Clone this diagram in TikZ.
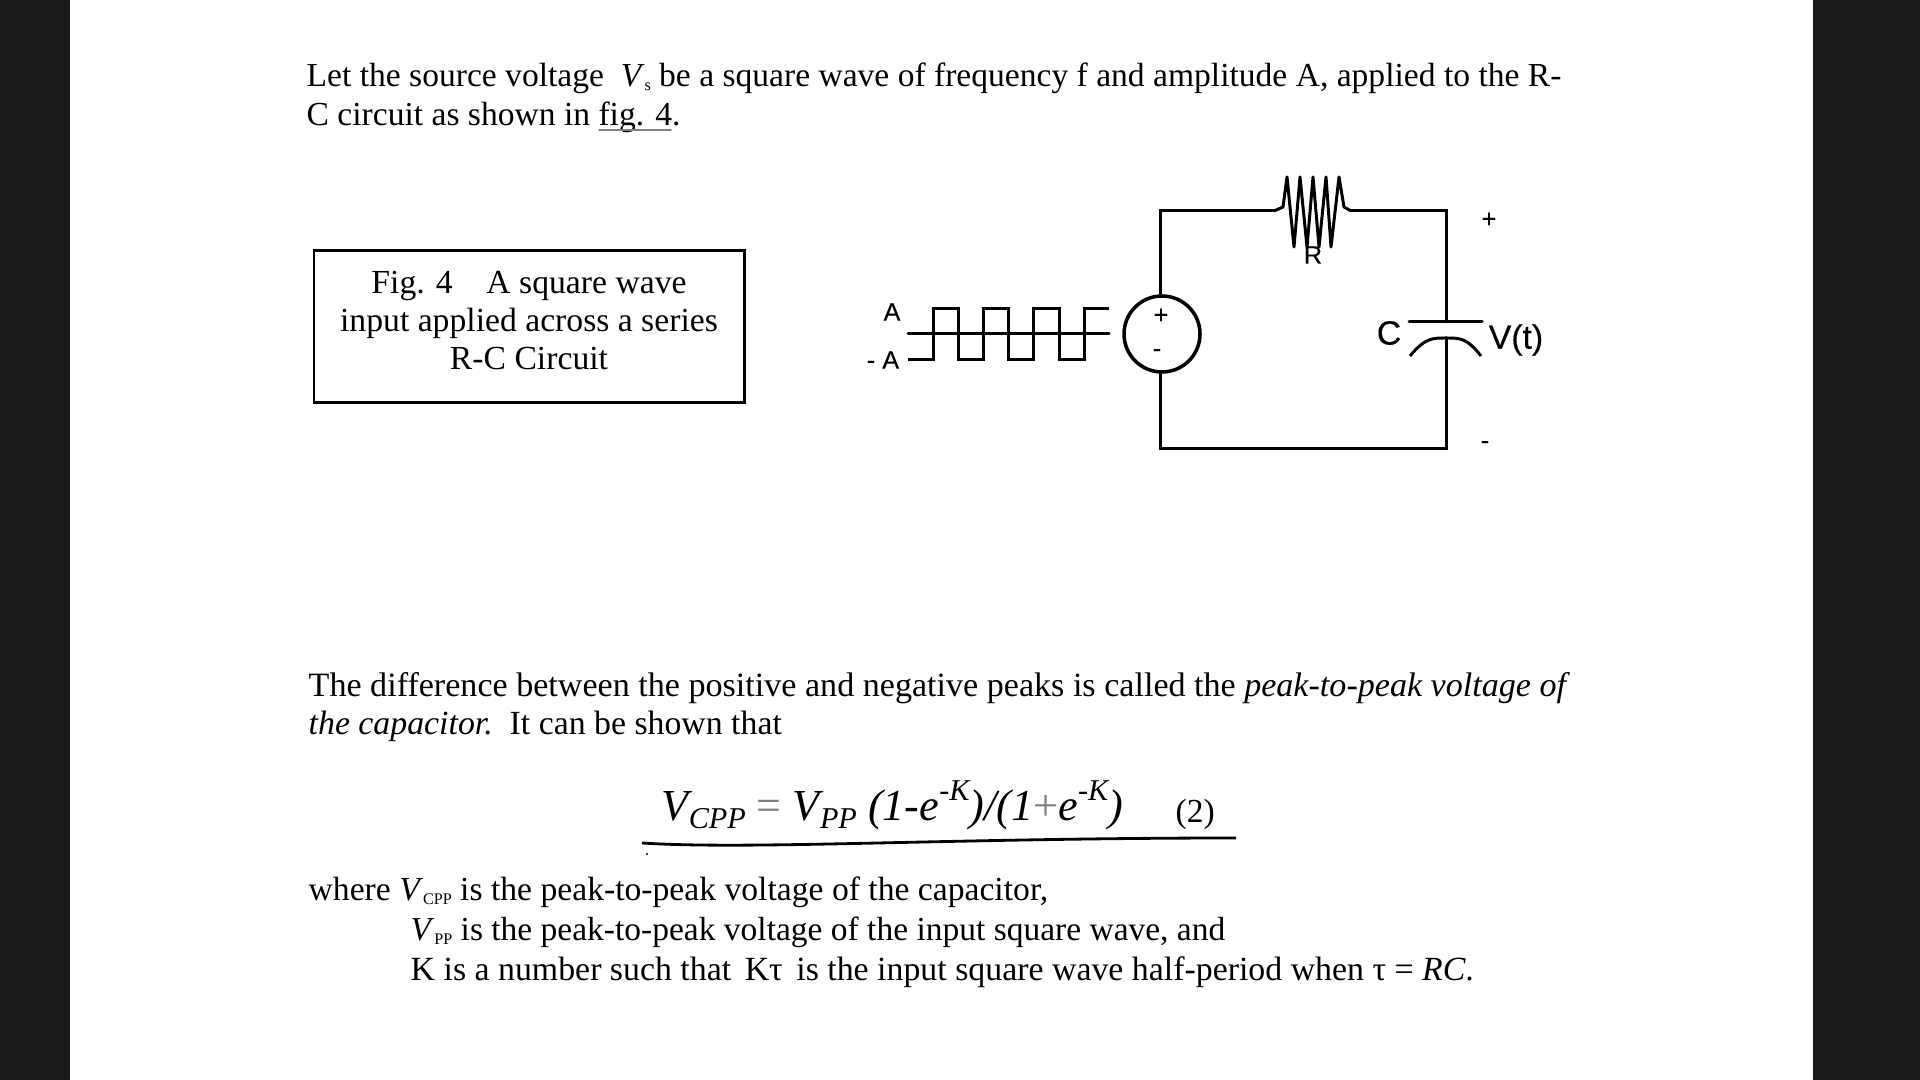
\documentclass[tikz,border=0pt]{standalone}
\usepackage{fontspec}
\usepackage{tkz-euclide}
\setmainfont{Liberation Serif}
\setsansfont{Liberation Sans}
\newfontfamily\cirfont{Liberation Sans}[FakeBold=0.3]
\definecolor{barcol}{HTML}{1A1A1A}
\newcommand{\smallsub}[1]{\raisebox{-0.9pt}{\fontsize{4.6}{5}\selectfont #1}}
\newcommand{\eqsub}[1]{\raisebox{-2pt}{\fontsize{8.6}{10}\selectfont #1}}
\newcommand{\eqsup}[1]{\raisebox{5.8pt}{\fontsize{8.6}{10}\selectfont #1}}
\tikzset{
    textline/.style={anchor=base west,inner sep=0pt,font=\fontsize{#1}{11}\selectfont},
    textline/.default=9.55,
    boxline/.style={anchor=base,inner sep=0pt,font=\fontsize{9.58}{11}\selectfont},
    cirtext/.style={inner sep=0pt,font=\cirfont\fontsize{7.2}{8}\selectfont},
    bigtext/.style={inner sep=0pt,font=\cirfont\fontsize{9.6}{10}\selectfont},
    wire/.style={line width=0.85,color=black},
}

\begin{document}
\begin{tikzpicture}
        \useasboundingbox (0,0) rectangle (19.2,10.8);
        \fill[barcol] (0,0) rectangle (0.7,10.8);
        \fill[barcol] (18.13,0) rectangle (19.2,10.8);

        \tkzDefPoint(11.60,8.69){TL}
        \tkzDefPoint(14.46,8.69){TR}
        \tkzDefPoint(11.60,6.31){BL}
        \tkzDefPoint(14.46,6.31){BR}
        \tkzDefPoint(12.74,8.69){RL}
        \tkzDefPoint(13.51,8.69){RR}
        \tkzDefPoint(11.62,7.46){S}
        \tkzDefPoint(11.62,7.84){ST}
        \tkzDefPoint(11.60,7.86){SU}
        \tkzDefPoint(11.60,7.07){SD}
        \tkzDefPoint(14.46,7.58){CU}
        \tkzDefPoint(14.46,7.42){CD}
        \tkzDefPoint(14.09,7.58){PL}
        \tkzDefPoint(14.82,7.58){PR}
        \tkzDefPoint(9.08,7.46){AL}
        \tkzDefPoint(11.09,7.46){AR}
        \tkzDefPoint(9.08,7.20){WS}
        \tkzDefPoint(3.14,8.29){FA}
        \tkzDefPoint(7.44,6.77){FB}
        \tkzDefPoint(5.99,9.50){GL}
        \tkzDefPoint(6.71,9.50){GR}
        \tkzDefPoint(6.42,2.37){UL}
        \tkzDefPoint(12.36,2.42){UR}

        % circuit
        \tkzDrawPolySeg[wire](SU,TL,RL)
        \tkzDrawPolySeg[wire](RR,TR,CU)
        \tkzDrawPolySeg[wire](CD,BR,BL,SD)
        \tkzDrawCircle[wire,line width=1](S,ST)
        \tkzDrawSegment[wire](PL,PR)
        \tkzDrawSegment[wire](AL,AR)

        \draw[wire,line join=round] (RL) -- (12.83,8.73) -- (12.87,9.03) -- (12.94,8.33) -- (13.00,9.03)
            -- (13.07,8.33) -- (13.13,9.03) -- (13.19,8.33) -- (13.26,9.03) -- (13.31,8.33)
            -- (13.39,9.03) -- (13.44,8.73) -- (RR);
        \draw[wire] (14.10,7.24) .. controls (14.25,7.42) and (14.32,7.42) .. (CD)
            .. controls (14.60,7.42) and (14.67,7.42) .. (14.81,7.24);
        \draw[wire] (WS) -- (9.33,7.20) -- (9.33,7.71) -- (9.58,7.71) -- (9.58,7.20) -- (9.83,7.20)
            -- (9.83,7.71) -- (10.085,7.71) -- (10.085,7.20) -- (10.335,7.20) -- (10.335,7.71)
            -- (10.59,7.71) -- (10.59,7.20) -- (10.845,7.20) -- (10.845,7.71) -- (11.09,7.71);

        \node[cirtext] (lA) at (8.92,7.68) {A};
        \node[cirtext] (lmA) at (8.83,7.20) {- A};
        \node[cirtext] (lplus) at (11.61,7.64) {+};
        \node[cirtext] (lminus) at (11.57,7.27) {-};
        \node[cirtext] (lR) at (13.13,8.25) {R};
        \node[bigtext] (lC) at (13.89,7.47) {C};
        \node[bigtext] (lV) at (15.16,7.40) {V(t)};
        \node[cirtext] (ltop) at (14.89,8.60) {+};
        \node[cirtext] (lbot) at (14.85,6.35) {-};

        % caption box
        \draw[wire] (FA) rectangle (FB);
        \node[boxline] (cap1) at (5.29,7.86) {Fig. 4\hspace{1.0em}A square wave};
        \node[boxline] (cap2) at (5.29,7.48) {input applied across a series};
        \node[boxline] (cap3) at (5.29,7.10) {R-C Circuit};

        % text
        \node[textline=9.55] (line1) at (3.06,9.93) {Let the source voltage\hspace{0.5em}\textit{V}\smallsub{s} be a square wave of frequency f and amplitude A, applied to the R-};
        \node[textline=9.55] (line2) at (3.06,9.54) {C circuit as shown in fig. 4.};
        \tkzDrawSegment[line width=0.4,color=gray](GL,GR)
        \node[textline=9.7] (line3) at (3.08,3.83) {The difference between the positive and negative peaks is called the \textit{peak-to-peak voltage of}};
        \node[textline=9.62] (line4) at (3.08,3.45) {\textit{the capacitor.}\hspace{0.5em}It can be shown that};
        \node[textline,font=\fontsize{12.6}{14}\selectfont\itshape] (eqn) at (6.61,2.59) {V\eqsub{CPP} {\upshape\color{gray}=} V\eqsub{PP} (1-e\eqsup{-K})/(1{\upshape\color{gray}+}e\eqsup{-K})};
        \node[textline=9.55] (eqnum) at (11.75,2.57) {(2)};
        \node[textline=9.57] (line5) at (3.08,1.79) {where \textit{V}\smallsub{CPP} is the peak-to-peak voltage of the capacitor,};
        \node[textline=9.53] (line6) at (4.10,1.39) {\textit{V}\smallsub{PP} is the peak-to-peak voltage of the input square wave, and};
        \node[textline=9.63] (line7) at (4.10,0.99) {K is a number such that\hspace{0.4em}Kτ\hspace{0.4em}is the input square wave half-period when τ = \textit{RC}.};

        % equation rule
        \draw[line width=0.8] (UL) .. controls (7.50,2.30) and (9.50,2.42) .. (UR);
        \fill (6.47,2.26) circle (0.012);
    \end{tikzpicture}
\end{document}
